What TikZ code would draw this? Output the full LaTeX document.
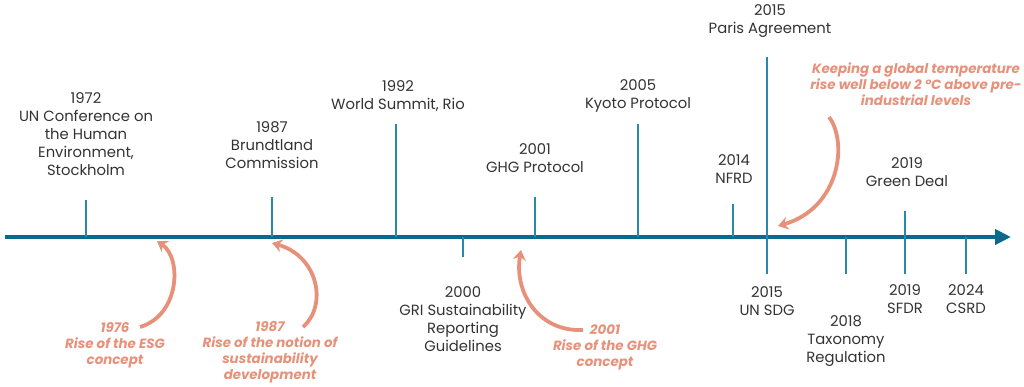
\documentclass[tikz,border=0pt]{standalone}
\usepackage{fontspec}
\setmainfont{Poppins}
\usetikzlibrary{arrows.meta}
\definecolor{axisc}{HTML}{0B6A8C}
\definecolor{tickc}{HTML}{2A88AA}
\definecolor{txtc}{HTML}{333333}
\definecolor{accent}{HTML}{E8917A}
\tikzset{
  lbl/.style={inner sep=0pt, align=center, text=txtc, font=\fontsize{14.8}{18}\selectfont},
  note/.style={inner sep=0pt, align=center, text=accent, font=\fontsize{13.4}{16}\selectfont\bfseries\itshape},
  tick/.style={draw=tickc, line width=1.3pt},
  curl/.style={draw=accent, line width=3.8pt, -{Stealth[length=10pt,width=13pt]}},
}
\begin{document}
\begin{tikzpicture}[x=1pt,y=-1pt]
\useasboundingbox (0,0) rectangle (1024,386);
% axis
\coordinate (a0) at (5,237);
\coordinate (a1) at (1011,237);
\draw[axisc, line width=4.5pt, -{Triangle[length=16pt,width=15pt]}] (a0) -- (a1);
% ticks up
\coordinate (t72) at (86,237);  \coordinate (t72e) at (86,200);
\coordinate (t87) at (272,237); \coordinate (t87e) at (272,197);
\coordinate (t92) at (396,237); \coordinate (t92e) at (396,124);
\coordinate (t01) at (535,237); \coordinate (t01e) at (535,197);
\coordinate (t05) at (638,237); \coordinate (t05e) at (638,124);
\coordinate (t14) at (733,237); \coordinate (t14e) at (733,204);
\coordinate (t15) at (767,237); \coordinate (t15e) at (767,57);
\coordinate (t19) at (905,237); \coordinate (t19e) at (905,211);
% ticks down
\coordinate (d00) at (463,237); \coordinate (d00e) at (463,257);
\coordinate (d15e) at (767,274);
\coordinate (d18) at (846,237); \coordinate (d18e) at (846,274);
\coordinate (d19e) at (905,274);
\coordinate (d24) at (966,237); \coordinate (d24e) at (966,274);
\foreach \a/\b in {t72/t72e,t87/t87e,t92/t92e,t01/t01e,t05/t05e,t14/t14e,t15/t15e,t19/t19e,d00/d00e,t15/d15e,d18/d18e,t19/d19e,d24/d24e}
  \draw[tick] (\a) -- (\b);
% labels above
\node[lbl] (l72) at (86,134) {1972\\UN Conference on\\the Human\\Environment,\\Stockholm};
\node[lbl] (l87) at (272,145) {1987\\Brundtland\\Commission};
\node[lbl] (l92) at (398,96) {1992\\World Summit, Rio};
\node[lbl] (l01) at (535,158) {2001\\GHG Protocol};
\node[lbl] (l05) at (638,96) {2005\\Kyoto Protocol};
\node[lbl] (l14) at (734,169) {2014\\NFRD};
\node[lbl] (l15p) at (770,21) {2015\\Paris Agreement};
\node[lbl] (l19g) at (907,172) {2019\\Green Deal};
% labels below
\node[lbl] (l00) at (463,319) {2000\\GRI Sustainability\\Reporting\\Guidelines};
\node[lbl] (l15u) at (767,301) {2015\\UN SDG};
\node[lbl] (l18) at (846,341) {2018\\Taxonomy\\Regulation};
\node[lbl] (l19s) at (905,299) {2019\\SFDR};
\node[lbl] (l24) at (966,299) {2024\\CSRD};
% notes
\node[note] (n76) at (115,345) {1976\\Rise of the ESG\\concept};
\node[note] (n87) at (270,352) {1987\\Rise of the notion of\\sustainability\\development};
\node[note] (n01) at (605,347) {2001\\Rise of the GHG\\concept};
\node[note] (nkp) at (916,84) {Keeping a global temperature\\rise well below 2 °C above pre-\\industrial levels};
% curled arrows
\coordinate (c1s) at (140,327); \coordinate (c1e) at (157,241);
\coordinate (c2s) at (303,327); \coordinate (c2e) at (272,243);
\coordinate (c3s) at (583,330); \coordinate (c3e) at (521,250);
\coordinate (c4s) at (829,117); \coordinate (c4e) at (778,226);
\draw[curl] (c1s) .. controls (180,315) and (182,258) .. (c1e);
\draw[curl] (c2s) .. controls (328,305) and (318,256) .. (c2e);
\draw[curl] (c3s) .. controls (538,332) and (514,292) .. (c3e);
\draw[curl] (c4s) .. controls (848,142) and (840,208) .. (c4e);
\end{tikzpicture}
\end{document}
